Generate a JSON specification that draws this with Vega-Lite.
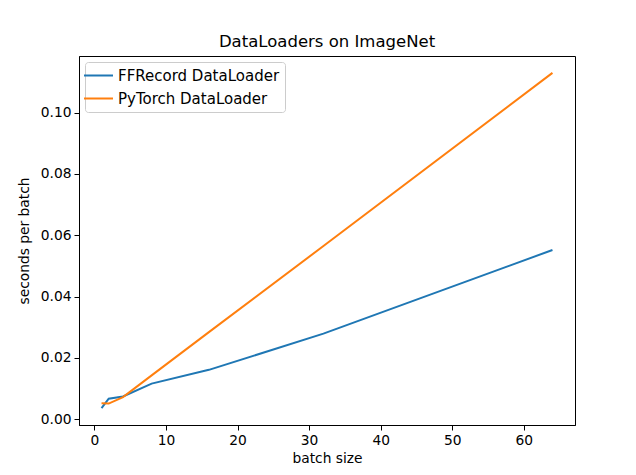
{
  "$schema": "https://vega.github.io/schema/vega-lite/v6.json",
  "width": 496,
  "height": 369,
  "autosize": "none",
  "padding": {"left": 79, "top": 56, "right": 61, "bottom": 50},
  "config": {
    "font": "DejaVu Sans",
    "view": {"stroke": "black", "strokeWidth": 1},
    "axis": {
      "grid": false,
      "domainColor": "black",
      "tickColor": "black",
      "tickSize": 5,
      "labelFontSize": 13.8,
      "labelColor": "black",
      "titleFontSize": 13.8,
      "titleFontWeight": "normal",
      "titleColor": "black",
      "labelPadding": 3
    }
  },
  "title": {
    "text": "DataLoaders on ImageNet",
    "fontSize": 16.5,
    "fontWeight": "normal",
    "offset": 6,
    "color": "black"
  },
  "data": {
    "values": [
      {"batch": 1, "loader": "FFRecord DataLoader", "seconds": 0.0036},
      {"batch": 2, "loader": "FFRecord DataLoader", "seconds": 0.0067},
      {"batch": 4, "loader": "FFRecord DataLoader", "seconds": 0.0074},
      {"batch": 8, "loader": "FFRecord DataLoader", "seconds": 0.0116},
      {"batch": 16, "loader": "FFRecord DataLoader", "seconds": 0.0161},
      {"batch": 32, "loader": "FFRecord DataLoader", "seconds": 0.0279},
      {"batch": 64, "loader": "FFRecord DataLoader", "seconds": 0.0552},
      {"batch": 1, "loader": "PyTorch DataLoader", "seconds": 0.0052},
      {"batch": 2, "loader": "PyTorch DataLoader", "seconds": 0.0051},
      {"batch": 4, "loader": "PyTorch DataLoader", "seconds": 0.0072},
      {"batch": 8, "loader": "PyTorch DataLoader", "seconds": 0.0143},
      {"batch": 16, "loader": "PyTorch DataLoader", "seconds": 0.0284},
      {"batch": 32, "loader": "PyTorch DataLoader", "seconds": 0.0565},
      {"batch": 64, "loader": "PyTorch DataLoader", "seconds": 0.113}
    ]
  },
  "mark": {"type": "line", "strokeWidth": 2},
  "encoding": {
    "x": {
      "field": "batch",
      "type": "quantitative",
      "title": "batch size",
      "scale": {"domain": [-2.15, 67.15], "nice": false, "zero": false},
      "axis": {"values": [0, 10, 20, 30, 40, 50, 60], "titlePadding": 5}
    },
    "y": {
      "field": "seconds",
      "type": "quantitative",
      "title": "seconds per batch",
      "scale": {"domain": [-0.0019, 0.1185], "nice": false, "zero": false},
      "axis": {"values": [0, 0.02, 0.04, 0.06, 0.08, 0.1], "format": ".2f", "titlePadding": 9}
    },
    "color": {
      "field": "loader",
      "type": "nominal",
      "scale": {"range": ["#1f77b4", "#ff7f0e"]},
      "legend": {
        "title": null,
        "orient": "top-left",
        "offset": 6,
        "symbolType": "M-2,0L2,0",
        "symbolSize": 210,
        "symbolStrokeWidth": 2,
        "labelFontSize": 15,
        "labelColor": "black",
        "labelOffset": 11,
        "labelLimit": 300,
        "rowPadding": 6,
        "padding": 5,
        "fillColor": "white",
        "strokeColor": "#cccccc",
        "cornerRadius": 3
      }
    }
  }
}
